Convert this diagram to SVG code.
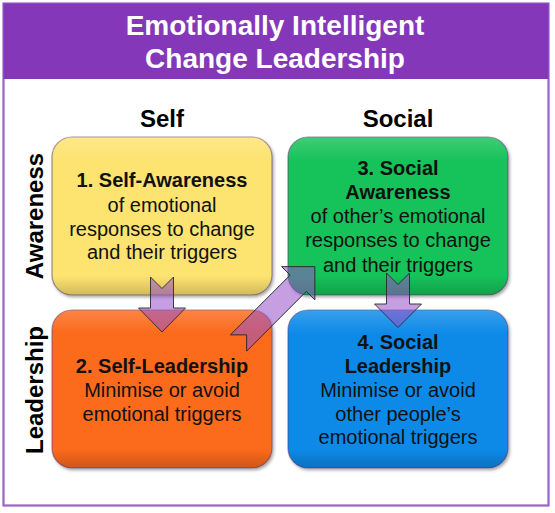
<svg xmlns="http://www.w3.org/2000/svg" width="555" height="513" viewBox="0 0 555 513">
<defs>
<style>
.t{font-family:"Liberation Sans",Arial,sans-serif;font-size:20px;fill:#111;text-anchor:middle}
.b{font-weight:bold}
.lab{font-family:"Liberation Sans",Arial,sans-serif;font-size:24px;font-weight:bold;fill:#000;text-anchor:middle}
.title{font-family:"Liberation Sans",Arial,sans-serif;font-size:28px;font-weight:bold;fill:#fff;text-anchor:middle}
.box{stroke:#5a3a78;stroke-opacity:0.55;stroke-width:1.2}
.arrow{fill:#9650c8;fill-opacity:0.55;stroke:#2a2a2a;stroke-width:0.9;stroke-linejoin:miter}
</style>
<filter id="sh" x="-10%" y="-10%" width="125%" height="130%">
<feDropShadow dx="1.5" dy="2" stdDeviation="1.6" flood-color="#000" flood-opacity="0.35"/>
</filter>
<linearGradient id="gloss" x1="0" y1="0" x2="0" y2="1">
<stop offset="0" stop-color="#fff" stop-opacity="0.18"/>
<stop offset="0.15" stop-color="#fff" stop-opacity="0"/>
<stop offset="0.88" stop-color="#000" stop-opacity="0"/>
<stop offset="1" stop-color="#000" stop-opacity="0.18"/>
</linearGradient>
</defs>

<g id="frame">
<rect x="3.5" y="3.5" width="545" height="502" fill="#fff" stroke="#9a63c4" stroke-width="2.2"/>
<rect x="3.5" y="3.5" width="545" height="75.5" fill="#8438b9"/>
</g>

<g id="title">
<text class="title" x="275" y="35">Emotionally Intelligent</text>
<text class="title" x="275" y="68">Change Leadership</text>
</g>

<g id="labels">
<text class="lab" x="162" y="127">Self</text>
<text class="lab" x="398" y="127">Social</text>
<text class="lab" transform="translate(43,216) rotate(-90)" x="0" y="0">Awareness</text>
<text class="lab" transform="translate(43,390) rotate(-90)" x="0" y="0">Leadership</text>
</g>

<g id="node1">
<rect class="box" x="52" y="137" width="220" height="158" rx="20" fill="#fde36f" filter="url(#sh)"/>
<rect x="52" y="137" width="220" height="158" rx="20" fill="url(#gloss)"/>
<text class="t b" x="162" y="187">1. Self-Awareness</text>
<text class="t" x="162" y="212">of emotional</text>
<text class="t" x="162" y="236">responses to change</text>
<text class="t" x="162" y="259">and their triggers</text>
</g>

<g id="node3">
<rect class="box" x="288" y="137" width="220" height="158" rx="20" fill="#14c25a" filter="url(#sh)"/>
<rect x="288" y="137" width="220" height="158" rx="20" fill="url(#gloss)"/>
<text class="t b" x="398" y="175">3. Social</text>
<text class="t b" x="398" y="199">Awareness</text>
<text class="t" x="398" y="223">of other’s emotional</text>
<text class="t" x="398" y="247">responses to change</text>
<text class="t" x="398" y="272">and their triggers</text>
</g>

<g id="node2">
<rect class="box" x="52" y="310" width="220" height="158" rx="20" fill="#fc6a1e" filter="url(#sh)"/>
<rect x="52" y="310" width="220" height="158" rx="20" fill="url(#gloss)"/>
<text class="t b" x="162" y="373">2. Self-Leadership</text>
<text class="t" x="162" y="397">Minimise or avoid</text>
<text class="t" x="162" y="421">emotional triggers</text>
</g>

<g id="node4">
<rect class="box" x="288" y="310" width="220" height="158" rx="20" fill="#0b8ae8" filter="url(#sh)"/>
<rect x="288" y="310" width="220" height="158" rx="20" fill="url(#gloss)"/>
<text class="t b" x="398" y="349">4. Social</text>
<text class="t b" x="398" y="373">Leadership</text>
<text class="t" x="398" y="397">Minimise or avoid</text>
<text class="t" x="398" y="421">other people’s</text>
<text class="t" x="398" y="444">emotional triggers</text>
</g>

<g id="connectors">
<path class="arrow" d="M150.5,277 L162,288.5 L173.5,277 L173.5,308 L185.5,308 L162,332 L138.5,308 L150.5,308 Z"/>
<path class="arrow" d="M386.5,273 L398,284.5 L409.5,273 L409.5,304 L421.5,304 L398,327.5 L374.5,304 L386.5,304 Z"/>
<path class="arrow" transform="translate(238.5,343) rotate(-45)" d="M0,-11.5 L84.5,-11.5 L84.5,-23.5 L108,0 L84.5,23.5 L84.5,11.5 L0,11.5 L11.5,0 Z"/>
</g>
</svg>
